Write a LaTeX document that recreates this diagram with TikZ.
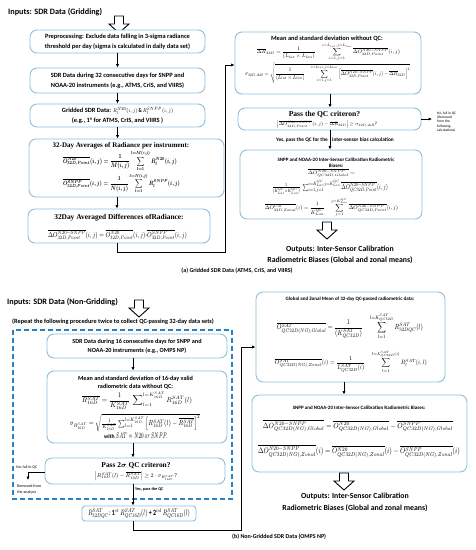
\documentclass[tikz,border=0pt]{standalone}
\usepackage{amsmath}
\usepackage[no-math]{fontspec}
\setmainfont{Carlito}
\newfontfamily\serifb{Liberation Serif}
\usepackage{graphicx}
\usetikzlibrary{arrows.meta,calc}
\definecolor{boxblue}{RGB}{140,192,222}
\definecolor{dashblue}{RGB}{40,130,190}
\newcommand\fsz[2]{\fontsize{#1}{#2}\selectfont}
\newcommand\rz[3]{\resizebox*{#1pt}{#2pt}{#3}}
\tikzset{
  bx/.style={draw=boxblue, line width=0.9pt, rounded corners=7pt, fill=white, inner sep=0pt},
  txt/.style={inner sep=0pt, align=center, font=\bfseries\fsz{6.4}{10}},
  hd/.style={inner sep=0pt, align=center, font=\serifb\bfseries\fsz{7}{8}},
  fm/.style={inner sep=0pt},
  arr/.style={line width=0.8pt, -{Latex[length=3.5pt,width=3.2pt]}},
  ln/.style={line width=0.8pt},
  tiny/.style={inner sep=0pt, align=left, font=\fsz{3.6}{4.1}},
  hollowarrow/.pic={\draw[line width=0.9pt, fill=white, line join=miter] (-4.5,0) -- (4.5,0) -- (4.5,8) -- (10,8) -- (0,17) -- (-10,8) -- (-4.5,8) -- cycle;}
}
\begin{document}
\begin{tikzpicture}[x=1pt,y=-1pt]
\useasboundingbox (0,0) rectangle (476,550);

% ===================== (a) Gridding =====================
\node[anchor=west, inner sep=0pt, font=\bfseries\fsz{8.2}{9}] (t1) at (8,12) {Inputs: SDR Data (Gridding)};
\pic at (119,16) {hollowarrow};

\node[bx, minimum width=175, minimum height=23] (b1) at (117.5,41.5) {};
\node[txt] (b1t) at (b1) {Preprocessing: Exclude data falling in 3-sigma radiance\\threshold per day (sigma is calculated in daily data set)};

\node[bx, minimum width=175, minimum height=25] (b2) at (117.5,80.5) {};
\node[txt] (b2t) at (b2) {SDR Data during 32 consecutive days for SNPP and\\NOAA-20 instruments (e.g., ATMS, CrIS, and VIIRS)};

\node[bx, minimum width=175, minimum height=23] (b3) at (117.5,115.5) {};
\node[txt, font=\bfseries\fsz{6.4}{9.5}] (b3t) at (b3) {Gridded SDR Data: \rz{60}{7.5}{$R_l^{N20}(i,j)$ \& $R_l^{SNPP}(i,j)$}\\(e.g., 1° for ATMS, CrIS, and VIIRS )};

\node[bx, minimum width=195, minimum height=58] (b4) at (126.5,168) {};
\node[hd] (b4h) at (121,146) {32-Day Averages of Radiance per instrument:};
\node[fm] (b4a) at (120,161) {\rz{114}{21}{\boldmath$\displaystyle \overline{O^{N20}_{32D,Point}}(i,j)=\frac{1}{M(i,j)}\sum_{l=1}^{l=M(i,j)} R_l^{N20}(i,j)$}};
\node[fm] (b4b) at (121.5,183.5) {\rz{117}{20}{\boldmath$\displaystyle \overline{O^{SNPP}_{32D,Point}}(i,j)=\frac{1}{N(i,j)}\sum_{l=1}^{l=N(i,j)} R_l^{SNPP}(i,j)$}};

\node[bx, minimum width=182, minimum height=34] (b5) at (119,226) {};
\node[hd, font=\serifb\bfseries\fsz{7.4}{8}] (b5h) at (119,218) {32Day Averaged Differences ofRadiance:};
\node[fm] (b5a) at (117.5,235) {\rz{139}{11}{$\overline{\Delta O^{N20-SNPP}_{32D,Point}}(i,j)=\overline{O^{N20}_{32D,Point}}(i,j)$-$\overline{O^{SNPP}_{32D,Point}}(i,j)$}};

\node[bx, minimum width=186, minimum height=62] (b6) at (328,63) {};
\node[txt] (b6h) at (327,38.5) {Mean and standard deviation without QC:};
\node[fm] (b6a) at (328.5,52.5) {\rz{143}{17}{$\displaystyle \overline{\Delta R}_{32D}=\frac{1}{(L_{lat}\times L_{lon})}\quad\sum_{i=1,j=1}^{i=L_{lat},j=L_{lon}}\overline{\Delta O^{N20-SNPP}_{32D,Point}}(i,j)$}};
\node[fm] (b6b) at (327.5,73.5) {\rz{165}{20}{$\displaystyle \sigma_{32D,\Delta R}=\sqrt{\frac{1}{(L_{lat}\times L_{lon})}\quad\sum_{i=1,j=1}^{i=L_{lat},j=L_{lon}}\left[\overline{\Delta O^{N20-SNPP}_{32D,Point}}(i,j)-\overline{\Delta R}_{32D}\right]^2}$}};

\node[bx, minimum width=183, minimum height=22] (b7) at (329.5,119) {};
\node[hd, font=\serifb\bfseries\fsz{7.6}{8}] (b7h) at (324.5,114) {Pass the QC criteron?};
\node[fm] (b7a) at (327,124.5) {\rz{100}{8.5}{$\left|\overline{\Delta O^{N20-SNPP}_{32D,Point}}(i,j)-\overline{\Delta R}_{32D}\right|\geq\sigma_{32D,\Delta R}$?}};

\node[bx, minimum width=182, minimum height=69] (b8) at (331,184.5) {};
\node[txt, font=\bfseries\fsz{5}{6}] (b8h) at (336,163) {SNPP and NOAA-20 Inter-Sensor Calibration Radiometric\\Biases:};
\node[fm] (b8a) at (331.5,173) {\rz{47}{7.5}{$\overline{\Delta O^{N20-SNPP}_{QC32D,Global}}=$}};
\node[fm] (b8b) at (330,187.5) {\rz{116}{14}{$\frac{1}{(K^{QC}_{Lat}\times K^{QC}_{Lon})}\ \sum_{i=1,j=1}^{i=K^{QC}_{Lat},j=K^{QC}_{Lon}}\overline{\Delta O^{N20-SNPP}_{QC32D,Point}}(i,j)$}};
\node[fm] (b8c) at (331.5,207.5) {\rz{133}{19}{$\displaystyle\overline{\Delta O^{Cal}_{32D,Zonal}}(i)=\frac{1}{K^{QC}_{Lon}}\quad\sum_{j=1}^{j=K^{QC}_{Lon}}\overline{\Delta O^{N20-SNPP}_{QC32D,Point}}(i,j)$}};

\pic at (327,222) {hollowarrow};
\node[txt, font=\bfseries\fsz{7.8}{11}] (o1) at (340,254.5) {Outputs: Inter-Sensor Calibration\\Radiometric Biases (Global and zonal means)};
\node[inner sep=0pt, font=\bfseries\fsz{6}{7}] (capa) at (237,271) {(a) Gridded SDR Data (ATMS, CrIS, and VIIRS)};

% connectors (a)
\draw[arr] (b1.south) -- (b2.north);
\draw[arr] (b2.south) -- (b3.north);
\draw[arr] (b3.south) -- (b3.south |- b4.north);
\coordinate (ca) at (117,252);
\coordinate (cb) at (225,252);
\coordinate (cc) at (225,65);
\draw[arr] (b4.south -| ca) -- (b5.north -| ca);
\draw[arr] (b5.south -| ca) -- (ca) -- (cb) -- (cc) -- (b6.west |- cc);
\coordinate (cd) at (330,0);
\draw[arr] (b6.south -| cd) -- (b7.north -| cd);
\draw[arr] (b7.south -| cd) -- (b8.north -| cd);
\node[inner sep=0pt, anchor=east, font=\bfseries\fsz{5.3}{6}] (yes1) at (328,140) {Yes, pass the QC for the};
\node[inner sep=0pt, anchor=west, font=\bfseries\fsz{5.3}{6}] (yes2) at (332,140) {inter-sensor bias calculation};
\coordinate (ce) at (432,119);
\draw[arr] (b7.east |- ce) -- (ce);
\node[tiny, anchor=north west] (no1) at (437,112) {No, fail in QC\\(Removed\\from the\\following\\calculations)};

% ===================== (b) Non-Gridding =====================
\node[anchor=west, inner sep=0pt, font=\bfseries\fsz{8.2}{9}] (t2) at (7,302) {Inputs: SDR Data (Non-Gridding)};
\pic at (139,300) {hollowarrow};
\node[anchor=west, inner sep=0pt, font=\bfseries\fsz{6.3}{7}] (rep) at (12,322) {(Repeat the following procedure twice to collect QC-passing 32-day data sets)};
\draw[dashblue, line width=1.4pt, dash pattern=on 5pt off 3pt] (13,330) rectangle (232,499);

\node[bx, minimum width=180, minimum height=24] (b9) at (137,346) {};
\node[txt, font=\bfseries\fsz{6.2}{9}] (b9t) at (b9) {SDR Data during 16 consecutive days for SNPP and\\NOAA-20 instruments (e.g., OMPS NP)};

\node[bx, minimum width=180, minimum height=72] (b10) at (137,407) {};
\node[txt, font=\bfseries\fsz{6.2}{8}] (b10h) at (135.5,383) {Mean and standard deviation of 16-day valid\\radiometric data without QC:};
\node[fm] (b10a) at (137,401) {\rz{110}{17}{$\displaystyle\overline{R^{SAT}_{16D}}=\frac{1}{K^{SAT}_{16D}}\ \sum\nolimits_{l=1}^{l=K^{SAT}_{16D}}R^{SAT}_{16D}(l)$}};
\node[fm] (b10b) at (135,422.5) {\rz{130}{18}{$\sigma_{R^{SAT}_{16D}}=\sqrt{\frac{1}{K^{SAT}_{16D}}\sum_{l=1}^{l=K^{SAT}_{16D}}\left[R^{SAT}_{16D}(l)-\overline{R^{SAT}_{16D}}\right]^2}$}};
\node[inner sep=0pt, font=\bfseries\fsz{5.6}{6}] (b10c) at (136,436) {with \rz{52}{5.5}{$SAT=N20\ or\ SNPP.$}};

\node[bx, minimum width=180, minimum height=26] (b11) at (135,471) {};
\node[hd, font=\serifb\bfseries\fsz{7.4}{8}] (b11h) at (136,465.5) {Pass 2$\boldsymbol{\sigma}$ QC criteron?};
\node[fm] (b11a) at (136,476) {\rz{82}{10}{$\left|R^{SAT}_{16D}(l)-\overline{R^{SAT}_{16D}}\right|\geq 2\cdot\sigma_{R^{SAT}_{16D}}$?}};

\node[bx, rounded corners=3pt, minimum width=114, minimum height=15] (b12) at (139,513.5) {};
\node[fm] (b12t) at (139,513.5) {\rz{102}{10}{$R^{SAT}_{32DQC}$: \textbf{1$^{st}$} $R^{SAT}_{QC16D}(l)$ \textbf{+ 2$^{nd}$} $R^{SAT}_{QC16D}(l)$}};

\node[bx, minimum width=189, minimum height=90] (b13) at (350.5,337) {};
\node[txt, font=\bfseries\fsz{5}{6}] (b13h) at (350,299) {Global and Zonal Mean of 32-day QC-passed radiometric data:};
\node[fm] (b13a) at (350,326.5) {\rz{146}{26}{$\displaystyle\overline{O^{SAT}_{QC32D(NG),Global}}=\frac{1}{(K^{SAT}_{QC32D})}\quad\sum_{l=1}^{l=K^{SAT}_{QC32D}}R^{SAT}_{32DQC}(l)$}};
\node[fm] (b13b) at (351,362) {\rz{152}{22}{$\displaystyle\overline{O^{SAT}_{QC32D(NG),Zonal}}(i)=\frac{1}{L^{SAT}_{QC32D}(i)}\quad\sum_{l=1}^{l=L^{SAT}_{QC32D}(i)}R^{SAT}_{l}(i,l)$}};

\node[bx, minimum width=215, minimum height=77] (b14) at (359.5,433.5) {};
\node[txt, font=\bfseries\fsz{5}{6}] (b14h) at (359,408) {SNPP and NOAA-20 Inter-Sensor Calibration Radiometric Biases:};
\node[fm] (b14a) at (358,426) {\rz{190}{12}{$\overline{\Delta O^{N20-SNPP}_{QC32D(NG),Global}}=\overline{O^{N20}_{QC32D(NG),Global}}-\overline{O^{SNPP}_{QC32D(NG),Global}}$}};
\node[fm] (b14b) at (359,451.5) {\rz{202}{13}{$\overline{\Delta O^{N20-SNPP}_{QC32D(NG),Zonal}}(i)=\overline{O^{N20}_{QC32D(NG),Zonal}}(i)-\overline{O^{SNPP}_{QC32D(NG),Zonal}}(i)$}};

\pic at (344,473) {hollowarrow};
\node[txt, font=\bfseries\fsz{7.8}{12}] (o2) at (355,502) {Outputs: Inter-Sensor Calibration\\Radiometric Biases (Global and zonal means)};
\node[anchor=west, inner sep=0pt, font=\bfseries\fsz{6}{7}] (capb) at (232,537) {(b) Non-Gridded SDR Data (OMPS NP)};

% connectors (b)
\coordinate (cf) at (133,0);
\draw[arr] (b9.south -| cf) -- (b10.north -| cf);
\draw[arr] (b10.south -| cf) -- (b11.north -| cf);
\draw[arr] (b11.south -| cf) -- (b12.north -| cf);
\node[inner sep=0pt, anchor=west, font=\bfseries\fsz{4.2}{5}] (yes3) at (135,489) {Yes, pass the QC};
\coordinate (cg) at (28,472);
\coordinate (ch) at (28,480);
\draw[arr] (b11.west |- cg) -- (cg) -- (ch);
\node[tiny, font=\fsz{4}{5}, anchor=west] (no2) at (16,467) {No, fail in QC};
\node[tiny, font=\fsz{4}{5.5}, anchor=north west] (rem) at (17,485) {Removed from\\the analysis};
\coordinate (ci) at (133,530);
\coordinate (cj) at (241,530);
\coordinate (ck) at (241,347);
\draw[arr] (b12.south -| ci) -- (ci) -- (cj) -- (ck) -- (b13.west |- ck);
\coordinate (cl) at (344,0);
\draw[arr] (b13.south -| cl) -- (b14.north -| cl);
\end{tikzpicture}
\end{document}
